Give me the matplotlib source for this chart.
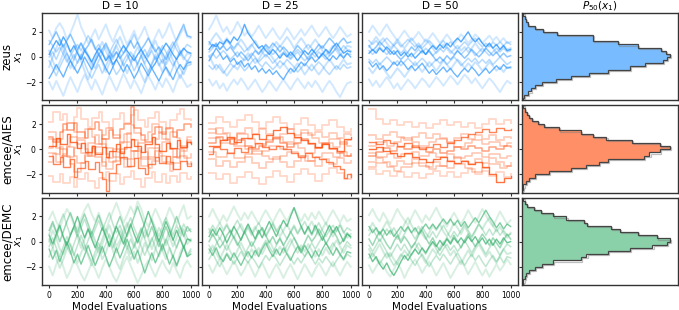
import matplotlib
matplotlib.use("Agg")
import matplotlib.pyplot as plt
import matplotlib.patheffects as pe

# ---------------- data (read / estimated from the reference) ----------------
evaluations = list(range(0, 1001, 25))          # model-evaluation index of each stored point
row_names = ["zeus", "emcee/AIES", "emcee/DEMC"]
col_titles = ["D = 10", "D = 25", "D = 50"]
hist_title = r"$P_{50}(x_1)$"
y_label = "$x_1$"
x_ticks = [0, 200, 400, 600, 800, 1000]
y_ticks = [-2, 0, 2]
hist_edges = [-3.5, -3.25, -3.0, -2.75, -2.5, -2.25, -2.0, -1.75, -1.5, -1.25, -1.0, -0.75, -0.5, -0.25,
              0.0, 0.25, 0.5, 0.75, 1.0, 1.25, 1.5, 1.75, 2.0, 2.25, 2.5, 2.75, 3.0, 3.25, 3.5]

hist_zeus = [0.005, 0.016, 0.04, 0.06, 0.09, 0.135, 0.23, 0.33, 0.45, 0.58, 0.73, 0.83, 0.95, 0.98,
             1.0, 0.97, 0.94, 0.785, 0.65, 0.48, 0.48, 0.235, 0.14, 0.09, 0.04, 0.03, 0.02, 0.01]
hist_aies = [0.003, 0.005, 0.01, 0.025, 0.05, 0.085, 0.18, 0.33, 0.43, 0.52, 0.58, 0.82, 0.86, 0.93,
             1.0, 0.93, 0.74, 0.57, 0.48, 0.40, 0.25, 0.15, 0.11, 0.07, 0.05, 0.035, 0.02, 0.01]
hist_demc = [0.005, 0.01, 0.02, 0.03, 0.05, 0.085, 0.135, 0.21, 0.40, 0.435, 0.58, 0.73, 0.88, 0.98,
             1.0, 0.91, 0.78, 0.66, 0.60, 0.44, 0.42, 0.30, 0.21, 0.13, 0.08, 0.035, 0.02, 0.01]

zeus_d10 = [
    [0.2, 0.8, 1.3, 0.9, 1.6, 1.1, 0.4, 0.9, 0.3, -0.2, 0.5, 0.1, -0.4, 0.2, 0.7, 0.3, -0.3, 0.1, -0.6, -0.2,
     0.4, 0.9, 0.5, 0.1, -0.3, 0.2, 0.6, 0.1, -0.4, -0.9, -0.5, 0.1, 0.6, 1.1, 0.7, 0.2, -0.2, 0.3, 0.7, 0.4, 0.3],
    [-1.7, -1.2, -0.6, -1.1, -1.6, -0.9, -0.3, -0.8, -1.3, -0.7, 0.0, -0.5, -1.0, -0.4, 0.2, -0.3, -0.9, -1.4, -0.8, -0.2,
     -0.7, -1.2, -0.6, -1.1, -1.7, -1.2, -0.5, -1.0, -1.5, -0.9, -1.4, -1.9, -1.3, -0.8, -1.3, -1.8, -1.1, -0.6, -1.0, -0.5, -0.4],
    [1.0, 1.5, 2.0, 1.4, 0.8, 1.3, 1.8, 1.2, 0.6, 1.1, 0.5, 0.9, 1.4, 0.7, 0.2, 0.6, 1.1, 0.5, 0.0, 0.4,
     -0.1, 0.3, 0.8, 1.3, 0.7, 1.2, 0.6, 1.0, 1.5, 0.9, 0.4, 0.8, 0.3, -0.2, 0.4, 0.9, 1.4, 2.0, 2.6, 1.7, 1.6],
    [2.1, 1.5, 2.3, 2.7, 2.2, 1.4, 1.9, 2.6, 3.4, 2.4, 1.8, 1.1, 1.6, 2.2, 1.4, 2.0, 2.6, 1.8, 1.2, 1.9,
     2.5, 1.7, 1.0, 1.5, 2.1, 1.3, 1.8, 2.4, 1.6, 1.0, 1.6, 2.2, 1.5, 2.0, 2.7, 1.9, 1.2, 1.8, 2.3, 1.6, 1.5],
    [-2.0, -2.6, -1.9, -2.5, -3.1, -2.3, -1.6, -2.2, -2.8, -2.0, -1.4, -2.0, -2.6, -1.8, -2.4, -3.0, -2.2, -1.5, -2.1, -2.7,
     -2.0, -1.3, -1.9, -2.5, -1.8, -2.3, -2.9, -2.1, -1.5, -2.0, -2.6, -1.9, -2.4, -1.7, -2.2, -2.8, -2.0, -1.4, -1.9, -2.4, -2.2],
    [0.5, -0.3, -1.0, -0.4, 0.3, 1.0, 0.4, -0.2, 0.5, 1.1, 0.6, 0.0, -0.7, -0.1, 0.6, 1.2, 0.5, -0.1, 0.4, 1.0,
     1.6, 0.9, 0.3, -0.4, 0.2, 0.8, 0.1, -0.5, 0.1, 0.7, 1.3, 0.6, 0.0, -0.6, -0.1, 0.5, 1.1, 0.4, -0.2, 0.3, 0.2],
    [-0.8, 0.0, 0.7, 1.4, 0.6, -0.1, -0.9, -0.2, 0.5, -0.3, -1.1, -1.8, -1.0, -0.3, 0.3, -0.4, -1.2, -0.5, 0.2, 0.9,
     0.2, -0.6, -1.3, -0.6, 0.1, -0.7, -1.4, -2.0, -1.2, -0.5, 0.2, -0.5, -1.2, -0.4, 0.4, -0.3, -1.0, -1.7, -1.0, -0.3, -0.5],
    [1.3, 0.9, 0.4, 0.8, 0.2, -0.4, 0.1, 0.6, 1.0, 0.5, 1.1, 1.7, 1.2, 0.6, 1.0, 0.4, -0.2, 0.3, 0.9, 1.4,
     0.8, 0.3, 0.7, 1.2, 1.8, 1.1, 0.5, -0.1, 0.4, 1.0, 0.6, 0.0, -0.5, 0.1, 0.7, 1.2, 0.6, 0.1, 0.6, 1.0, 0.8],
    [-0.3, -0.9, -1.5, -0.8, -0.2, 0.3, -0.3, -1.0, -0.4, 0.2, -0.5, -1.2, -1.7, -1.1, -0.6, -1.3, -0.7, -0.1, -0.8, -1.4,
     -1.0, -0.3, 0.2, -0.4, -1.1, -0.5, 0.1, -0.6, -1.2, -0.6, 0.0, -0.7, -0.2, -0.9, -1.5, -0.8, -0.2, -0.9, -1.4, -0.7, -0.6],
    [0.0, 0.4, -0.2, 0.5, 1.0, 0.3, -0.3, 0.2, -0.5, 0.1, 0.7, 0.2, -0.4, -0.9, -0.3, 0.3, 0.9, 0.3, -0.2, 0.4,
     -0.1, -0.7, -0.2, 0.4, 0.0, -0.6, 0.1, 0.6, 0.0, 0.5, -0.2, 0.3, 0.9, 0.4, -0.2, -0.7, -0.1, 0.5, 0.0, -0.4, 0.1],
]
zeus_d25 = [
    [0.6, 1.0, 0.8, 1.2, 1.0, 1.4, 1.1, 1.6, 1.3, 1.8, 2.6, 1.9, 1.5, 1.1, 0.7, 0.9, 0.5, 0.2, 0.6, 0.3,
     -0.1, 0.3, 0.0, 0.4, 0.1, -0.3, 0.1, 0.5, 0.2, 0.6, 0.3, -0.1, 0.2, 0.6, 0.3, 0.8, 1.1, 0.7, 0.3, 0.5, 0.4],
    [-0.3, 0.2, 0.7, 0.3, -0.2, 0.1, -0.4, -0.1, -0.6, -0.3, -0.8, -0.5, -1.0, -0.7, -1.2, -0.9, -1.3, -1.0, -1.4, -1.1,
     -1.5, -1.8, -1.3, -0.9, -1.2, -0.8, -0.4, -0.7, -0.3, 0.0, -0.4, -0.1, 0.3, 0.0, -0.3, 0.1, -0.2, 0.2, -0.1, 0.3, 0.0],
    [1.2, 0.8, 1.1, 0.6, 0.9, 0.5, 0.8, 0.4, 0.0, 0.4, 0.1, -0.3, 0.1, 0.5, 0.2, 0.6, 1.0, 0.7, 1.1, 0.8,
     0.4, 0.8, 0.5, 0.1, 0.5, 0.9, 0.6, 0.2, -0.2, 0.2, 0.6, 1.0, 0.7, 1.1, 1.5, 1.2, 0.8, 1.2, 1.5, 1.1, 1.2],
    [2.2, 2.7, 3.3, 2.6, 2.0, 2.4, 1.8, 2.2, 2.8, 2.3, 1.7, 2.1, 1.6, 2.0, 2.5, 2.0, 1.5, 1.9, 2.3, 1.8,
     1.4, 1.8, 2.3, 1.9, 1.4, 1.8, 2.2, 1.7, 2.1, 2.5, 2.0, 1.6, 2.0, 2.4, 1.9, 1.5, 1.9, 2.4, 2.0, 1.6, 1.8],
    [-1.8, -2.3, -1.9, -2.5, -2.1, -2.7, -2.2, -1.8, -2.2, -1.7, -2.1, -2.6, -2.2, -1.8, -2.3, -2.8, -2.4, -1.9, -2.3, -2.7,
     -2.2, -1.8, -2.2, -2.6, -2.1, -1.7, -2.1, -2.5, -2.0, -2.4, -1.9, -2.3, -2.8, -2.3, -1.9, -2.3, -2.8, -3.2, -2.6, -2.1, -2.0],
    [0.1, -0.5, -1.0, -0.6, -1.1, -1.5, -1.1, -0.7, -1.0, -0.5, -0.1, 0.3, -0.1, -0.5, -0.2, 0.3, 0.7, 0.3, -0.1, -0.5,
     -0.9, -0.5, -0.9, -1.3, -0.9, -0.5, -0.9, -1.4, -1.0, -0.6, -1.0, -1.4, -1.0, -0.6, -0.2, -0.6, -1.0, -0.6, -0.2, -0.6, -0.5],
    [1.0, 1.5, 1.9, 1.5, 1.1, 1.5, 1.0, 0.6, 1.0, 1.4, 1.0, 0.5, 0.9, 1.3, 0.8, 0.4, 0.0, 0.4, 0.8, 1.2,
     0.8, 1.2, 1.6, 1.2, 0.7, 1.1, 1.5, 1.1, 0.6, 1.0, 1.4, 1.0, 0.5, 0.1, 0.5, 0.9, 0.5, 0.1, 0.5, 0.9, 0.8],
    [0.4, 0.7, 1.0, 0.6, 0.9, 1.3, 1.0, 0.7, 1.1, 0.8, 0.4, 0.7, 1.0, 0.6, 0.3, 0.6, 0.9, 0.5, 0.2, 0.5,
     0.9, 0.6, 0.2, -0.1, 0.3, 0.6, 0.3, 0.7, 1.0, 0.7, 0.3, 0.6, 0.9, 0.5, 0.1, 0.4, 0.8, 0.5, 0.9, 0.6, 0.5],
    [-0.7, -1.0, -0.6, -0.9, -1.3, -0.9, -0.5, -0.8, -0.4, -0.7, -1.1, -0.8, -0.4, -0.1, -0.5, -0.8, -0.4, -0.7, -1.0, -0.7,
     -0.3, -0.6, -0.2, -0.5, -0.8, -1.2, -0.9, -0.5, -0.8, -1.1, -0.7, -0.4, -0.7, -1.1, -1.4, -1.0, -0.7, -1.0, -0.6, -0.9, -0.8],
    [0.0, 0.3, -0.1, 0.2, 0.5, 0.2, -0.2, 0.1, 0.4, 0.0, -0.3, 0.0, 0.3, 0.0, -0.4, -0.1, 0.2, -0.1, -0.5, -0.2,
     0.1, 0.4, 0.1, -0.2, 0.1, 0.4, 0.0, -0.3, 0.0, 0.3, 0.0, 0.4, 0.1, -0.2, 0.1, 0.4, 0.7, 0.3, 0.0, 0.3, 0.2],
]
zeus_d50 = [
    [0.3, 0.6, 0.3, 0.7, 0.4, 0.8, 0.5, 0.2, 0.5, 0.1, 0.4, 0.0, 0.3, -0.1, 0.2, 0.5, 0.2, 0.6, 0.9, 0.6,
     1.0, 0.7, 1.1, 0.8, 1.2, 1.5, 1.2, 1.6, 2.0, 1.5, 1.2, 1.5, 1.1, 0.8, 1.1, 0.7, 1.0, 0.6, 0.9, 0.5, 0.6],
    [-0.4, -0.8, -0.5, -1.0, -0.7, -1.1, -0.8, -0.4, -0.7, -0.3, -0.6, -1.0, -0.7, -1.1, -0.8, -0.5, -0.9, -1.3, -1.0, -1.4,
     -1.1, -0.8, -1.2, -0.9, -1.3, -1.6, -1.2, -0.9, -1.2, -0.8, -1.1, -1.5, -1.2, -0.9, -1.3, -1.0, -0.7, -1.0, -0.6, -0.9, -0.8],
    [0.9, 0.5, 0.8, 1.2, 0.9, 0.6, 0.2, 0.5, 0.1, -0.2, 0.1, 0.4, 0.8, 0.5, 0.9, 0.6, 0.2, 0.5, 0.1, -0.3,
     0.0, -0.3, 0.1, -0.2, 0.1, 0.5, 0.2, -0.1, 0.2, 0.6, 0.3, 0.0, 0.3, 0.7, 0.4, 0.1, 0.4, 0.0, 0.3, 0.0, 0.1],
    [2.0, 2.5, 2.1, 1.7, 2.2, 2.6, 2.1, 1.7, 1.3, 1.7, 2.1, 1.7, 1.3, 1.6, 2.0, 1.6, 1.2, 1.5, 1.9, 1.5,
     1.1, 1.4, 1.8, 1.4, 1.0, 1.4, 1.8, 1.5, 1.1, 1.4, 1.8, 1.5, 1.1, 1.4, 1.7, 1.3, 1.6, 1.2, 1.5, 1.1, 1.2],
    [-1.8, -2.3, -1.9, -2.4, -2.0, -1.6, -2.0, -2.5, -2.1, -2.6, -2.2, -1.8, -2.1, -2.5, -2.1, -1.7, -2.0, -2.4, -2.0, -1.6,
     -1.9, -2.3, -1.9, -1.5, -1.8, -2.2, -1.8, -1.4, -1.7, -2.1, -1.7, -2.1, -2.5, -2.1, -1.7, -2.0, -2.4, -2.8, -2.3, -1.9, -2.1],
    [-0.9, -1.3, -0.9, -0.5, -0.9, -1.3, -1.7, -1.3, -0.9, -1.2, -1.6, -1.2, -0.8, -0.4, -0.8, -1.2, -0.8, -0.4, -0.7, -1.1,
     -0.7, -0.3, -0.6, -1.0, -0.6, -0.2, -0.5, -0.9, -0.5, -0.8, -0.4, -0.7, -1.1, -0.8, -0.4, -0.7, -1.1, -0.8, -1.2, -0.8, -0.9],
    [0.8, 1.2, 1.6, 1.2, 1.5, 1.1, 0.7, 1.0, 1.4, 1.0, 0.7, 1.1, 1.5, 1.1, 0.7, 1.0, 1.4, 1.1, 0.7, 0.3,
     0.6, 1.0, 0.7, 0.3, 0.6, 0.9, 0.5, 0.8, 0.4, 0.7, 1.1, 0.7, 0.4, 0.7, 1.0, 0.7, 0.3, 0.6, 0.9, 0.6, 0.7],
    [0.5, 0.2, 0.5, 0.8, 0.5, 0.2, 0.5, 0.9, 0.6, 0.3, 0.6, 0.3, 0.0, 0.3, 0.6, 0.3, 0.7, 0.4, 0.1, 0.4,
     0.7, 0.4, 0.8, 0.5, 0.2, 0.5, 0.2, 0.5, 0.8, 0.5, 0.1, 0.4, 0.7, 0.4, 0.1, 0.4, 0.7, 0.4, 0.7, 0.4, 0.5],
    [-0.2, -0.5, -0.2, -0.6, -0.3, 0.0, -0.3, -0.6, -0.3, -0.7, -0.4, -0.1, -0.4, -0.7, -0.4, -0.1, -0.4, -0.8, -0.5, -0.2,
     -0.5, -0.2, -0.6, -0.3, 0.0, -0.3, -0.7, -0.4, -0.1, -0.4, -0.1, -0.5, -0.2, -0.5, -0.2, -0.6, -0.3, 0.0, -0.3, -0.6, -0.4],
    [1.3, 1.0, 1.3, 0.9, 1.2, 1.5, 1.2, 0.9, 1.2, 0.8, 1.1, 1.4, 1.1, 0.8, 1.1, 0.7, 1.0, 1.3, 1.0, 0.7,
     1.0, 1.3, 0.9, 1.2, 0.9, 0.6, 0.9, 1.2, 0.9, 1.2, 1.5, 1.1, 0.8, 1.1, 0.8, 1.2, 0.9, 1.2, 0.9, 1.2, 1.0],
]
aies_d10 = [
    [0.3, 0.3, 0.9, 0.4, 0.4, 1.2, 0.6, 0.6, 0.1, 0.5, -0.2, -0.2, 0.3, -0.4, -0.4, 0.2, -0.6, -0.1, -0.1, 0.4,
     -0.3, 0.2, 0.2, 0.8, 0.3, 0.3, -0.2, 0.4, 0.4, 1.0, 0.4, -0.1, -0.1, 0.5, 0.1, 0.1, 0.7, 0.2, 0.2, 0.6, 0.4],
    [-0.5, -1.2, -1.2, -0.6, -1.4, -1.4, -0.8, -2.2, -1.5, -1.5, -0.9, -1.6, -1.6, -1.0, -1.8, -2.4, -3.3, -1.9, -1.9, -1.2,
     -0.6, -0.6, -1.3, -1.3, -0.7, -1.5, -1.5, -2.0, -1.2, -1.2, -0.6, -1.1, -1.1, -0.5, -1.0, -1.6, -1.6, -0.9, -0.9, -1.3, -1.1],
    [1.0, 0.6, 0.6, 1.4, 2.0, 1.5, 1.5, 2.1, 1.4, 1.4, 0.9, 1.6, 1.6, 2.2, 1.5, 0.8, 0.8, 1.5, 0.9, 0.9,
     1.6, 2.0, 2.0, 3.4, 1.7, 1.7, 1.1, 0.6, 0.6, 1.2, 1.8, 1.8, 1.2, 1.7, 1.7, 1.0, 1.5, 1.5, 2.0, 2.0, 1.8],
    [2.2, 3.0, 3.0, 2.3, 2.8, 2.1, 2.1, 2.6, 3.3, 2.4, 2.4, 1.8, 2.5, 2.5, 3.0, 2.2, 2.2, 1.7, 2.4, 2.4,
     2.9, 2.1, 2.1, 2.7, 3.1, 2.3, 2.3, 1.8, 2.5, 2.5, 3.0, 2.2, 2.2, 1.6, 2.3, 2.3, 2.8, 3.2, 2.4, 2.4, 2.3],
    [-2.1, -2.6, -2.6, -2.0, -2.7, -2.7, -2.2, -3.0, -2.4, -2.4, -1.9, -2.5, -2.5, -3.1, -2.3, -2.3, -1.8, -2.5, -2.5, -2.0,
     -2.8, -2.2, -2.2, -1.7, -2.4, -2.4, -3.0, -2.3, -2.3, -1.8, -2.6, -2.6, -2.0, -2.7, -2.1, -2.1, -2.6, -1.9, -1.9, -2.4, -2.2],
    [0.8, 0.8, 0.1, -0.5, -0.5, 0.3, 1.0, 1.0, 0.4, -0.3, -0.3, 0.5, 0.5, 1.1, 0.4, 0.4, -0.4, -1.0, -1.0, -0.2,
     0.6, 0.6, 1.3, 0.7, 0.7, 0.0, -0.6, -0.6, 0.1, 0.1, 0.8, 1.4, 1.4, 0.7, 0.0, 0.0, -0.7, -0.1, -0.1, 0.6, 0.5],
    [-1.0, -0.4, -0.4, 0.2, -0.5, -0.5, -1.2, -1.8, -1.8, -1.1, -0.5, -0.5, 0.1, -0.6, -0.6, -1.3, -0.7, -0.7, 0.0, 0.0,
     -0.7, -1.4, -1.4, -0.8, -0.1, -0.1, -0.8, -0.8, -1.5, -0.9, -0.9, -0.3, -1.0, -1.0, -1.7, -1.1, -1.1, -0.5, -0.5, -1.2, -1.0],
    [1.4, 1.4, 0.8, 0.8, 1.5, 2.1, 2.1, 1.4, 0.9, 0.9, 1.6, 1.6, 1.0, 0.4, 0.4, 1.1, 1.7, 1.7, 1.1, 1.1,
     0.5, 1.2, 1.2, 1.9, 1.3, 1.3, 0.7, 0.7, 1.4, 2.0, 2.0, 1.3, 0.8, 0.8, 1.4, 1.4, 0.9, 0.3, 0.3, 1.0, 1.0],
    [-0.3, -0.3, -1.0, -1.0, -0.4, 0.2, 0.2, -0.5, -1.1, -1.1, -0.4, -0.4, 0.3, -0.3, -0.3, -1.0, -1.6, -1.6, -0.9, -0.9,
     -0.2, -0.8, -0.8, -0.1, -0.1, -0.7, -1.3, -1.3, -0.6, -0.6, 0.1, -0.5, -0.5, -1.2, -1.2, -0.6, 0.0, 0.0, -0.7, -0.7, -0.4],
    [0.1, 0.7, 0.7, 0.0, 0.0, -0.6, -0.6, 0.1, 0.7, 0.7, 0.0, -0.5, -0.5, 0.2, 0.2, 0.8, 0.1, 0.1, -0.6, -0.6,
     0.0, 0.0, 0.6, -0.1, -0.1, 0.5, 0.5, -0.2, -0.8, -0.8, -0.1, -0.1, 0.6, 0.6, 0.0, -0.6, -0.6, 0.1, 0.1, 0.7, 0.5],
]
aies_d25 = [
    [0.3, 0.3, 0.3, 0.7, 0.7, 1.0, 1.0, 0.6, 0.6, 0.9, 0.9, 0.9, 1.2, 1.2, 0.8, 0.8, 1.1, 1.1, 1.5, 1.5,
     1.8, 1.8, 1.3, 1.3, 1.0, 1.0, 0.7, 0.7, 0.5, 0.5, 0.2, 0.2, 0.4, 0.4, 0.1, 0.1, -0.1, -0.1, 0.8, 0.8, 1.0],
    [-0.4, 0.2, 0.2, 0.0, 0.0, -0.3, -0.3, 0.1, 0.1, -0.2, -0.2, 0.2, 0.2, 0.5, 0.5, 0.2, 0.2, 0.0, 0.0, 0.3,
     0.3, 0.0, 0.0, -0.3, -0.3, -0.6, -0.6, -0.3, -0.3, -0.6, -0.6, -0.8, -0.8, -1.0, -1.0, -1.3, -1.3, -1.6, -2.3, -2.0, -2.2],
    [0.5, 0.5, 1.0, 1.0, 0.7, 0.7, 0.4, 0.4, 0.7, 0.7, 0.3, 0.3, 0.0, 0.0, 0.3, 0.3, 0.6, 0.6, 0.9, 0.9,
     0.5, 0.5, 0.2, 0.2, 0.5, 0.5, 0.8, 0.8, 0.4, 0.4, 0.1, 0.1, 0.4, 0.4, 0.0, 0.0, -0.3, -0.3, -0.5, -0.5, -0.4],
    [2.1, 2.1, 2.6, 2.6, 2.2, 2.2, 1.8, 1.8, 2.3, 2.3, 2.7, 2.7, 2.2, 2.2, 1.7, 1.7, 2.2, 2.2, 2.6, 2.6,
     2.1, 2.1, 1.6, 1.6, 2.0, 2.0, 2.5, 2.5, 1.9, 1.9, 1.5, 1.5, 1.9, 1.9, 2.3, 2.3, 1.8, 1.8, 1.4, 1.4, 1.6],
    [-1.9, -1.9, -2.4, -2.4, -2.0, -2.0, -2.7, -2.7, -2.2, -2.2, -1.8, -1.8, -2.3, -2.3, -2.8, -2.8, -2.2, -2.2, -1.7, -1.7,
     -2.1, -2.1, -2.6, -2.6, -2.0, -2.0, -1.6, -1.6, -2.0, -2.0, -2.5, -2.5, -2.0, -2.0, -1.5, -1.5, -1.9, -1.9, -2.4, -2.4, -2.0],
    [-0.8, -0.8, -1.3, -1.3, -0.9, -0.9, -1.4, -1.4, -1.0, -1.0, -0.6, -0.6, -1.1, -1.1, -1.5, -1.5, -1.0, -1.0, -0.6, -0.6,
     -1.0, -1.0, -1.4, -1.4, -0.9, -0.9, -0.5, -0.5, -0.9, -0.9, -1.3, -1.3, -0.8, -0.8, -1.2, -1.2, -0.7, -0.7, -1.1, -1.1, -0.9],
    [1.3, 1.3, 1.7, 1.7, 1.3, 1.3, 0.9, 0.9, 1.3, 1.3, 1.7, 1.7, 1.2, 1.2, 1.6, 1.6, 1.2, 1.2, 0.8, 0.8,
     1.2, 1.2, 1.6, 1.6, 1.1, 1.1, 1.5, 1.5, 1.1, 1.1, 1.4, 1.4, 1.0, 1.0, 1.3, 1.3, 0.9, 0.9, 1.2, 1.2, 1.1],
    [0.9, 0.9, 0.9, 0.5, 0.5, 0.5, 0.8, 0.8, 1.2, 1.2, 1.2, 0.8, 0.8, 0.4, 0.4, 0.4, 0.7, 0.7, 1.0, 1.0,
     1.0, 0.6, 0.6, 0.6, 0.9, 0.9, 1.3, 1.3, 1.3, 0.9, 0.9, 0.5, 0.5, 0.5, 0.8, 0.8, 0.8, 0.4, 0.4, 0.7, 0.7],
    [-0.2, -0.2, -0.6, -0.6, -0.6, -0.3, -0.3, -0.7, -0.7, -0.7, -0.4, -0.4, -0.1, -0.1, -0.1, -0.5, -0.5, -0.8, -0.8, -0.8,
     -0.5, -0.5, -0.2, -0.2, -0.2, -0.5, -0.5, -0.9, -0.9, -0.9, -0.6, -0.6, -0.3, -0.3, -0.3, -0.6, -0.6, -0.2, -0.2, -0.5, -0.5],
    [1.6, 1.6, 1.2, 1.2, 1.2, 0.8, 0.8, 0.3, 0.3, 0.3, 0.0, 0.0, -0.4, -0.4, -0.4, -0.1, -0.1, 0.3, 0.3, 0.3,
     0.0, 0.0, 0.4, 0.4, 0.4, 0.1, 0.1, -0.3, -0.3, -0.3, 0.1, 0.1, 0.5, 0.5, 0.5, 0.2, 0.2, 0.6, 0.6, 0.3, 0.3],
]
aies_d50 = [
    [0.0, 0.0, 0.2, 0.2, -0.1, -0.1, -0.3, -0.3, -0.5, -0.5, -0.3, -0.3, -0.6, -0.6, -0.8, -0.8, -1.0, -1.0, -0.8, -0.8,
     -0.6, -0.6, -0.9, -0.9, -1.1, -1.1, -0.9, -0.9, -1.2, -1.2, -1.0, -1.0, -1.4, -1.4, -2.0, -2.0, -2.6, -2.6, -2.3, -2.3, -2.1],
    [0.6, 0.6, 0.4, 0.4, 0.7, 0.7, 0.5, 0.5, 0.3, 0.3, 0.5, 0.5, 0.2, 0.2, 0.0, 0.0, 0.2, 0.2, 0.4, 0.4,
     0.2, 0.2, 0.5, 0.5, 0.7, 0.7, 1.0, 1.0, 1.2, 1.2, 1.4, 1.4, 1.6, 1.6, 1.4, 1.4, 1.7, 1.7, 1.5, 1.5, 1.6],
    [-0.5, -0.5, -0.2, -0.2, 0.1, 0.1, -0.1, -0.1, 0.2, 0.2, 0.0, 0.0, 0.3, 0.3, 0.1, 0.1, -0.2, -0.2, 0.0, 0.0,
     -0.3, -0.3, -0.1, -0.1, 0.2, 0.2, 0.0, 0.0, 0.3, 0.3, 0.1, 0.1, -0.1, -0.1, 0.2, 0.2, 0.0, 0.0, 0.3, 0.3, 0.2],
    [3.2, 3.2, 2.4, 2.4, 2.0, 2.0, 2.3, 2.3, 1.9, 1.9, 2.2, 2.2, 1.8, 1.8, 2.1, 2.1, 1.7, 1.7, 2.0, 2.0,
     2.3, 2.3, 1.9, 1.9, 2.2, 2.2, 1.8, 1.8, 2.1, 2.1, 1.7, 1.7, 2.0, 2.0, 2.4, 2.4, 2.0, 2.0, 2.3, 2.3, 2.1],
    [-1.6, -1.6, -2.0, -2.0, -1.7, -1.7, -2.1, -2.1, -1.8, -1.8, -2.2, -2.2, -1.9, -1.9, -2.3, -2.3, -2.0, -2.0, -1.7, -1.7,
     -2.1, -2.1, -1.8, -1.8, -2.2, -2.2, -1.9, -1.9, -1.6, -1.6, -2.0, -2.0, -1.7, -1.7, -2.1, -2.1, -1.8, -1.8, -2.2, -2.2, -2.0],
    [1.1, 1.1, 0.8, 0.8, 1.1, 1.1, 1.4, 1.4, 1.0, 1.0, 0.7, 0.7, 1.0, 1.0, 1.3, 1.3, 0.9, 0.9, 1.2, 1.2,
     0.9, 0.9, 0.6, 0.6, 0.9, 0.9, 1.2, 1.2, 0.8, 0.8, 1.1, 1.1, 0.8, 0.8, 1.1, 1.1, 0.7, 0.7, 1.0, 1.0, 0.9],
    [-1.0, -1.0, -0.7, -0.7, -1.0, -1.0, -1.3, -1.3, -0.9, -0.9, -1.2, -1.2, -0.8, -0.8, -1.1, -1.1, -1.4, -1.4, -1.0, -1.0,
     -1.3, -1.3, -0.9, -0.9, -0.6, -0.6, -0.9, -0.9, -1.2, -1.2, -0.8, -0.8, -1.1, -1.1, -0.7, -0.7, -1.0, -1.0, -1.3, -1.3, -1.1],
    [0.3, 0.3, 0.6, 0.6, 0.6, 0.3, 0.3, 0.6, 0.6, 0.9, 0.9, 0.9, 0.6, 0.6, 0.3, 0.3, 0.3, 0.6, 0.6, 0.8,
     0.8, 0.8, 0.5, 0.5, 0.2, 0.2, 0.2, 0.5, 0.5, 0.7, 0.7, 0.7, 0.4, 0.4, 0.6, 0.6, 0.6, 0.3, 0.3, 0.5, 0.5],
    [-0.3, -0.3, -0.6, -0.6, -0.6, -0.4, -0.4, -0.7, -0.7, -0.4, -0.4, -0.4, -0.2, -0.2, -0.5, -0.5, -0.5, -0.3, -0.3, -0.6,
     -0.6, -0.6, -0.4, -0.4, -0.7, -0.7, -0.7, -0.5, -0.5, -0.3, -0.3, -0.3, -0.6, -0.6, -0.4, -0.4, -0.4, -0.7, -0.7, -0.5, -0.5],
    [-1.4, -1.4, -1.1, -1.1, -1.1, -1.4, -1.4, -1.7, -1.7, -1.4, -1.4, -1.4, -1.1, -1.1, -1.3, -1.3, -1.3, -1.6, -1.6, -1.3,
     -1.3, -1.3, -1.5, -1.5, -1.2, -1.2, -1.2, -1.5, -1.5, -1.8, -1.8, -1.8, -1.5, -1.5, -1.2, -1.2, -1.2, -1.5, -1.5, -1.3, -1.3],
]
demc_d10 = [
    [0.5, -0.2, 0.6, 1.3, 0.4, -0.3, 0.5, 1.2, 2.0, 1.1, 0.3, 1.0, 0.2, -0.5, 0.3, 1.1, 0.4, -0.4, 0.4, 1.2,
     0.5, -0.2, 0.6, 1.4, 0.6, -0.1, 0.7, 1.5, 2.4, 1.6, 0.8, 0.0, 0.8, 1.6, 0.9, 0.1, 0.9, 0.2, -0.5, 0.2, 0.1],
    [-0.6, -1.4, -0.7, -1.6, -0.8, 0.0, -0.8, -1.7, -1.0, -1.8, -1.1, -0.3, -1.1, -1.9, -1.2, -0.4, -1.2, -2.0, -1.3, -0.5,
     -1.3, -0.6, 0.2, -0.6, -1.4, -0.7, -1.6, -2.5, -1.7, -0.9, -1.7, -1.0, -0.2, -1.0, -1.8, -1.1, -1.9, -1.2, -0.4, -1.2, -1.0],
    [0.9, 1.6, 0.8, 0.0, 0.8, 1.6, 2.3, 1.5, 0.7, 1.5, 2.2, 1.4, 0.6, 1.4, 2.1, 1.3, 0.5, -0.3, 0.5, 1.3,
     2.0, 1.2, 0.4, 1.2, 2.0, 2.8, 2.0, 1.2, 0.4, 1.2, 0.4, -0.4, 0.4, 1.2, 0.4, 1.2, 2.0, 1.2, 0.4, 1.2, 0.8],
    [1.8, 2.4, 1.6, 1.1, 1.9, 2.6, 2.1, 1.3, 1.0, 1.8, 2.5, 3.0, 2.2, 1.6, 2.3, 1.4, 0.9, 1.7, 2.4, 3.1,
     2.3, 1.5, 2.1, 2.8, 2.2, 3.2, 2.6, 1.7, 1.2, 1.9, 2.6, 2.0, 1.3, 1.9, 2.7, 2.1, 1.4, 2.2, 2.9, 1.8, 2.0],
    [-2.0, -2.7, -1.8, -1.2, -2.0, -2.9, -2.3, -1.5, -1.9, -2.6, -3.1, -2.4, -1.7, -2.2, -2.9, -2.1, -1.4, -2.0, -2.7, -3.2,
     -2.5, -1.8, -1.2, -1.9, -2.6, -3.3, -2.7, -2.0, -1.5, -2.2, -2.8, -2.1, -1.5, -2.1, -2.5, -1.7, -2.3, -2.9, -2.0, -1.5, -2.0],
    [0.0, 0.9, 0.3, -0.6, -1.0, -0.2, 0.6, 1.1, 0.4, -0.5, 0.2, 1.0, 0.5, -0.3, -0.9, -0.2, 0.6, 1.3, 0.5, -0.4,
     0.1, 0.9, 1.5, 0.6, -0.2, -0.8, 0.1, 0.9, 0.3, -0.6, 0.2, 1.1, 0.6, -0.3, 0.4, -0.4, 0.3, 1.2, 0.6, -0.2, 0.2],
    [-1.2, -0.5, -1.3, -2.1, -1.4, -0.6, -0.2, -1.0, -1.7, -0.9, -0.3, -1.1, -1.9, -1.2, -0.5, -1.4, -0.9, 0.0, -0.7, -1.6,
     -2.2, -1.3, -0.6, -1.5, -0.8, -1.7, -1.0, -0.1, -0.8, -1.5, -0.6, 0.2, -0.7, -1.4, -0.5, -1.3, -2.0, -0.9, -0.3, -1.2, -0.8],
    [0.6, 1.4, 0.7, 1.5, 2.2, 1.3, 0.5, 1.2, 0.4, 1.1, 1.8, 1.0, 0.3, 1.0, 1.7, 0.9, 1.6, 2.3, 1.4, 0.7,
     1.3, 0.5, 1.2, 1.9, 1.1, 0.4, 1.1, 0.3, 1.0, 1.8, 1.1, 0.4, 1.2, 1.9, 1.2, 0.5, 1.3, 0.6, 1.4, 0.8, 1.0],
    [-0.4, 0.3, -0.5, -1.2, -0.4, 0.4, -0.3, -1.1, -0.3, 0.5, -0.2, -1.0, -1.6, -0.8, -0.1, -0.9, -0.2, 0.6, -0.1, -0.9,
     -0.2, 0.5, -0.3, -1.0, -0.3, 0.4, -0.4, -1.1, -0.4, 0.3, -0.5, -1.2, -0.5, 0.2, -0.5, -1.2, -0.4, 0.3, -0.4, -1.1, -0.6],
    [0.2, -0.5, 0.4, 1.1, 0.3, -0.4, -1.0, -0.2, 0.6, 0.0, -0.7, 0.1, 0.8, 0.1, -0.6, 0.2, 1.0, 0.3, -0.5, 0.2,
     0.9, 0.1, -0.6, 0.2, -0.5, 0.3, 1.0, 0.2, -0.5, 0.1, 0.8, 0.0, -0.7, 0.1, 0.9, 0.2, -0.5, 0.3, 1.0, 0.3, 0.0],
]
demc_d25 = [
    [0.4, 1.0, 0.5, 1.1, 0.6, -0.1, 0.5, 1.2, 0.7, 0.1, 0.8, 1.4, 0.8, 0.2, 0.9, 0.3, 1.0, 1.6, 1.0, 0.4,
     1.1, 1.7, 1.2, 2.0, 2.7, 1.9, 1.2, 0.6, 1.2, 0.6, 1.3, 0.7, 0.1, 0.7, 1.3, 0.7, 1.2, 0.6, 0.0, 0.6, 0.4],
    [-0.6, -1.1, -0.5, -1.2, -1.6, -1.0, -1.5, -0.9, -1.4, -1.9, -1.3, -0.8, -1.3, -0.7, -1.2, -0.6, -0.1, -0.7, -1.2, -0.6,
     -1.1, -0.5, -1.0, -1.5, -0.9, -0.4, -0.9, -0.3, -0.8, -1.3, -0.7, -1.2, -0.6, -0.1, -0.6, -1.1, -0.5, -1.0, -1.4, -0.8, -0.9],
    [0.0, 0.6, 0.1, -0.5, -0.1, 0.5, 0.9, 0.3, -0.3, 0.2, 0.8, 0.2, -0.4, 0.1, 0.7, 1.1, 0.5, -0.1, 0.4, -0.2,
     0.3, -0.3, 0.2, 0.8, 0.3, -0.3, -0.7, -0.1, 0.5, 0.0, 0.4, 1.0, 0.5, -0.2, 0.3, 0.9, 0.4, -0.2, 0.2, 0.7, 0.3],
    [2.0, 2.6, 2.0, 1.5, 2.1, 1.6, 2.2, 2.8, 2.2, 1.7, 2.3, 1.8, 2.4, 1.9, 1.4, 2.0, 2.5, 2.0, 1.5, 2.1,
     2.6, 2.1, 1.6, 2.2, 2.7, 2.1, 1.6, 2.2, 1.7, 2.3, 1.8, 2.4, 1.9, 1.4, 2.0, 2.5, 2.0, 1.5, 2.1, 1.6, 1.8],
    [-1.9, -2.5, -1.9, -1.4, -2.0, -2.6, -2.1, -1.5, -2.1, -2.7, -2.2, -1.6, -2.2, -2.8, -2.2, -1.7, -2.3, -2.9, -2.3, -1.8,
     -2.3, -2.9, -2.3, -1.8, -2.4, -3.0, -2.4, -1.8, -2.3, -2.8, -2.2, -1.7, -2.2, -2.7, -2.1, -1.6, -2.2, -2.7, -2.1, -1.6, -2.0],
    [1.0, 0.4, 1.0, 1.5, 0.9, 1.4, 0.8, 0.3, 0.9, 1.4, 0.8, 1.3, 0.7, 1.2, 0.6, 1.1, 0.5, 1.0, 1.5, 0.9,
     0.4, 0.9, 1.4, 0.8, 1.3, 0.7, 1.2, 0.6, 1.1, 1.6, 1.0, 0.5, 1.0, 1.5, 0.9, 0.4, 0.9, 1.4, 0.8, 0.3, 0.6],
    [-0.9, -0.3, -0.9, -1.4, -0.8, -0.2, -0.8, -1.3, -0.7, -0.1, -0.7, -1.2, -0.6, -1.1, -0.5, -1.0, -0.4, 0.1, -0.5, -1.0,
     -0.4, -0.9, -0.3, 0.2, -0.4, -0.9, -0.3, -0.8, -0.2, -0.7, -1.2, -0.6, -1.1, -0.5, -1.0, -0.4, 0.1, -0.4, -0.9, -0.3, -0.5],
    [0.7, 1.3, 0.8, 0.2, 0.8, 1.3, 0.7, 1.2, 1.7, 1.1, 0.6, 1.1, 0.5, 1.0, 1.5, 0.9, 0.4, 0.9, 1.4, 0.8,
     1.3, 0.7, 0.2, 0.7, 1.2, 0.6, 1.1, 1.6, 1.0, 0.5, 1.0, 1.5, 0.9, 0.4, 0.9, 1.3, 0.8, 1.3, 0.7, 1.1, 0.9],
    [-0.3, -0.8, -0.2, 0.3, -0.2, -0.7, -0.1, 0.4, -0.1, -0.6, -1.1, -0.5, 0.0, -0.5, -1.0, -0.4, 0.1, -0.4, -0.9, -0.3,
     0.2, -0.3, -0.8, -0.2, 0.3, -0.2, -0.7, -1.2, -0.6, -0.1, -0.6, -0.1, 0.4, -0.1, -0.6, -0.1, -0.6, -1.1, -0.5, 0.0, -0.3],
    [-1.4, -0.9, -1.5, -2.0, -1.4, -0.9, -1.3, -1.8, -1.3, -0.8, -1.3, -1.7, -1.2, -1.6, -2.1, -1.6, -1.1, -1.5, -1.0, -1.4,
     -1.9, -1.4, -0.9, -1.3, -1.8, -1.3, -1.7, -1.2, -0.8, -1.3, -1.8, -1.3, -1.7, -1.2, -1.6, -2.0, -1.5, -1.1, -1.5, -1.0, -1.2],
]
demc_d50 = [
    [-1.0, -1.6, -1.2, -1.8, -2.2, -1.7, -2.3, -2.7, -2.2, -1.6, -1.1, -1.5, -1.0, -0.6, -1.0, -0.5, -0.9, -0.4, 0.0, -0.4,
     0.1, -0.3, 0.2, -0.2, 0.3, -0.1, 0.3, -0.1, 0.4, 0.0, 0.4, -0.1, 0.3, -0.2, 0.2, -0.3, 0.2, -0.2, 0.3, -0.1, 0.0],
    [1.2, 0.7, 1.1, 0.6, 1.0, 0.5, 0.9, 0.4, 0.8, 1.2, 0.8, 1.2, 0.7, 1.1, 0.6, 1.0, 1.4, 1.0, 1.4, 1.0,
     1.4, 1.8, 1.4, 1.8, 1.3, 1.7, 1.2, 1.6, 1.1, 1.5, 1.9, 1.5, 2.0, 2.5, 2.0, 1.6, 1.1, 1.5, 1.0, 1.4, 1.2],
    [0.2, -0.3, 0.3, 0.8, 0.3, -0.2, -0.6, 0.0, 0.5, -0.1, 0.4, 0.0, -0.5, -0.1, 0.5, 0.9, 0.3, -0.2, 0.3, -0.3,
     -0.7, -0.2, 0.3, -0.1, 0.5, 0.0, -0.5, 0.1, 0.6, 0.1, -0.4, 0.1, 0.6, 0.2, -0.3, 0.3, -0.1, -0.5, 0.1, 0.6, 0.2],
    [2.1, 2.6, 2.0, 1.6, 2.3, 1.8, 1.4, 2.0, 2.6, 2.1, 1.7, 1.3, 1.9, 2.5, 2.0, 1.5, 2.1, 1.7, 2.2, 2.7,
     2.1, 1.6, 1.2, 1.8, 2.3, 1.8, 1.4, 1.9, 2.5, 2.0, 1.5, 2.0, 2.6, 2.1, 1.6, 1.2, 1.8, 2.4, 1.9, 1.4, 1.7],
    [-1.9, -2.5, -2.0, -1.5, -1.9, -2.4, -2.8, -2.2, -1.7, -2.2, -2.9, -2.3, -1.8, -1.4, -1.9, -2.5, -2.0, -1.6, -2.1, -2.7,
     -2.2, -1.7, -2.3, -2.9, -2.4, -1.9, -1.5, -2.0, -2.6, -2.1, -1.6, -2.2, -2.7, -2.2, -2.8, -2.3, -1.8, -2.3, -1.9, -1.4, -1.8],
    [0.9, 1.5, 1.0, 0.5, 1.1, 1.6, 1.1, 0.6, 0.2, 0.8, 1.4, 1.9, 1.3, 0.8, 1.2, 0.6, 0.2, 0.7, 1.3, 0.9,
     1.4, 0.8, 0.4, 0.9, 1.5, 1.1, 0.6, 1.2, 0.7, 0.3, 0.8, 1.4, 1.0, 1.5, 1.9, 1.3, 0.8, 1.2, 0.7, 0.3, 0.7],
    [-0.6, -1.2, -0.7, -0.2, -0.8, -1.3, -0.9, -1.4, -1.8, -1.2, -0.7, -1.1, -0.5, -0.1, -0.6, -1.2, -1.7, -1.1, -0.6, -1.0,
     -0.5, 0.0, -0.6, -1.1, -0.7, -1.3, -1.8, -1.2, -0.7, -1.2, -0.6, -0.2, -0.7, -1.2, -0.8, -1.3, -1.7, -1.1, -0.6, -1.0, -0.9],
    [0.5, 1.0, 0.5, 0.0, 0.5, 1.0, 0.6, 1.1, 0.6, 0.1, 0.6, 1.1, 0.7, 0.2, 0.7, 1.2, 0.7, 0.3, 0.8, 0.3,
     0.8, 1.3, 0.8, 0.3, 0.8, 0.4, 0.9, 1.4, 0.9, 0.4, 0.9, 1.4, 1.0, 0.5, 1.0, 0.5, 1.0, 0.5, 0.9, 0.5, 0.6],
    [-0.3, -0.8, -0.3, 0.2, -0.3, -0.8, -1.2, -0.7, -0.2, -0.7, -0.2, -0.7, -1.1, -0.6, -0.1, -0.6, -1.0, -0.5, -0.1, -0.6,
     -1.1, -0.6, -0.2, -0.7, -0.3, -0.8, -0.4, 0.1, -0.4, -0.9, -0.4, 0.0, -0.5, -1.0, -0.5, -0.1, -0.6, -1.1, -0.6, -0.2, -0.4],
    [-1.3, -0.9, -1.4, -1.8, -1.3, -0.9, -1.4, -1.9, -1.5, -1.0, -1.4, -1.0, -1.5, -1.9, -1.4, -1.0, -1.5, -2.0, -1.5, -1.1,
     -1.5, -1.0, -1.4, -1.8, -1.3, -0.9, -1.4, -1.9, -1.4, -1.0, -1.5, -1.1, -1.6, -2.0, -1.5, -1.1, -1.6, -1.2, -1.7, -1.2, -1.3],
]

traces = [[zeus_d10, zeus_d25, zeus_d50],
          [aies_d10, aies_d25, aies_d50],
          [demc_d10, demc_d25, demc_d50]]
hists = [hist_zeus, hist_aies, hist_demc]

# ---------------- style ----------------
line_colors = ["#1E90FF", "#FF4500", "#3CB371"]
walker_alpha = [0.75, 0.65, 0.5, 0.2, 0.2, 0.25, 0.25, 0.32, 0.32, 0.32]
walker_lw = [1.0, 1.0, 1.1, 1.4, 1.4, 1.4, 1.4, 1.1, 1.1, 1.1]
drawstyles = ["default", "steps-post", "default"]
spine_color = "#333333"
W, H = 679, 310

plt.rcParams["font.family"] = "DejaVu Sans"

fig = plt.figure(figsize=(W / 100, H / 100), dpi=100)
gs = fig.add_gridspec(3, 4, left=0.062, right=0.998, top=0.958, bottom=0.081,
                      wspace=0.027, hspace=0.058)

for r in range(3):
    for c in range(4):
        ax = fig.add_subplot(gs[r, c])
        for sp in ax.spines.values():
            sp.set_color(spine_color)
            sp.set_linewidth(1.0)
        ax.tick_params(length=2.5, width=0.8, color=spine_color, labelsize=5.5, pad=2)
        ax.set_ylim(-3.45, 3.5)
        ax.set_yticks(y_ticks)
        if c < 3:
            walkers = traces[r][c]
            for w in reversed(range(len(walkers))):
                ax.plot(evaluations, walkers[w], color=line_colors[r], lw=walker_lw[w],
                        alpha=walker_alpha[w], drawstyle=drawstyles[r])
            ax.set_xticks(x_ticks)
            if r == 2:
                ax.set_xlabel("Model Evaluations", fontsize=7.5, labelpad=1)
            else:
                ax.set_xticklabels([])
            if c == 0:
                pos = ax.get_position()
                yc = (pos.y0 + pos.y1) / 2
                fig.text(7.2 / W, yc, row_names[r], rotation=90, ha="center", va="center", fontsize=8.5)
                fig.text(19.5 / W, yc, y_label, rotation=90, ha="center", va="center", fontsize=7.5)
            else:
                ax.set_yticklabels([])
            if r == 0:
                ax.set_title(col_titles[c], fontsize=7.5, pad=3)
        else:
            vals = hists[r]
            ax.stairs(vals, hist_edges, orientation="horizontal", fill=True,
                      color=line_colors[r], alpha=0.6, lw=0)
            ax.stairs(vals, hist_edges, orientation="horizontal", color="#444444", lw=0.9,
                      path_effects=[pe.SimpleLineShadow(offset=(0.8, -0.8), shadow_color="gray", alpha=0.5),
                                    pe.Normal()])
            ax.set_xlim(0, max(vals) * 1.05)
            ax.set_xticks([])
            ax.set_yticklabels([])
            if r == 0:
                ax.set_title(hist_title, fontsize=7.5, pad=3)

fig.savefig("out.png", dpi=100)
